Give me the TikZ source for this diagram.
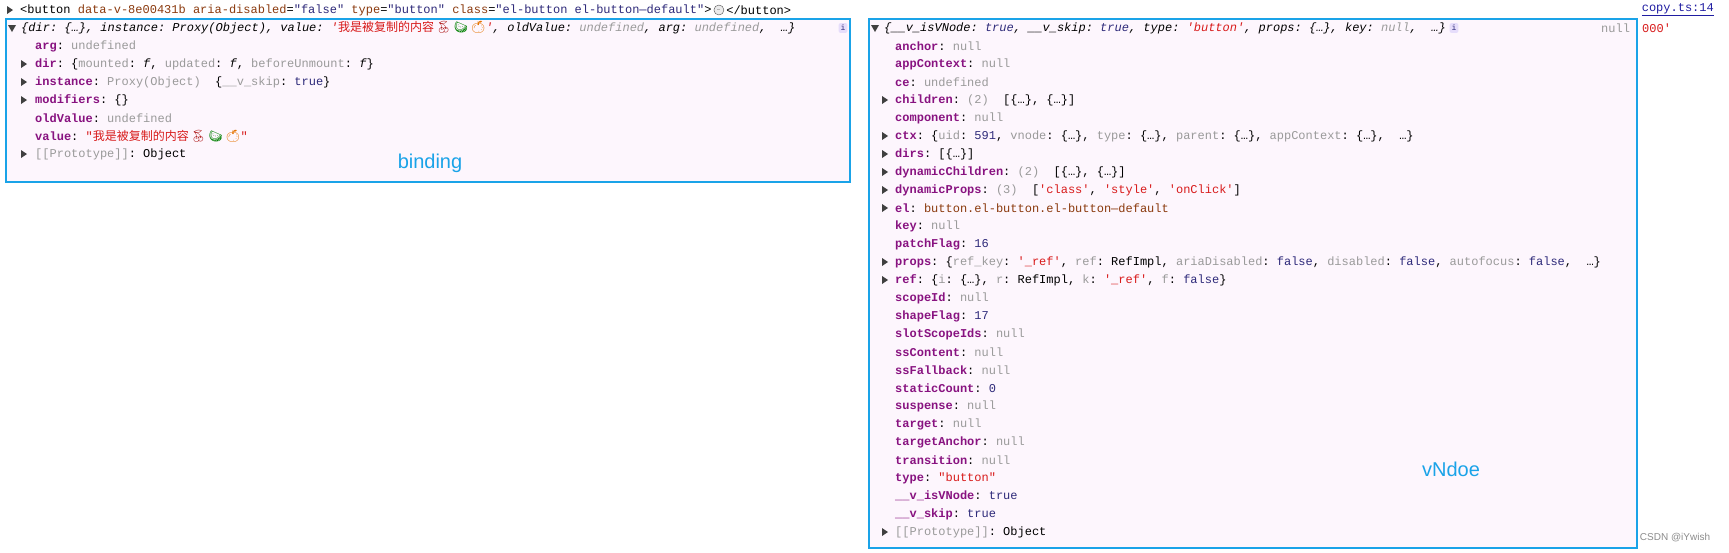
\documentclass[tikz,border=0pt]{standalone}
\usepackage{fontspec}
\setmonofont{Liberation Mono}
\setsansfont{Liberation Sans}
\newfontfamily\cjk{Noto Sans CJK SC}
\newfontfamily\emo{Noto Emoji}
\definecolor{keyc}{HTML}{881280}
\definecolor{grayc}{HTML}{9A9A9A}
\definecolor{strc}{HTML}{D81B1B}
\definecolor{numc}{HTML}{2E2A7A}
\definecolor{boxc}{HTML}{1AA3E8}
\definecolor{bgc}{HTML}{FDF6FD}
\definecolor{tagc}{HTML}{8B3A0E}
\definecolor{badge}{HTML}{E6DDFB}
\newcommand{\Kk}[1]{\textcolor{keyc}{\bfseries #1}}
\newcommand{\Gg}[1]{\textcolor{grayc}{#1}}
\newcommand{\Ss}[1]{\textcolor{strc}{#1}}
\newcommand{\Nn}[1]{\textcolor{numc}{#1}}
\newcommand{\Cn}[1]{{\cjk #1}}
\newcommand{\Fruits}{{\emo\textcolor{strc!80!black}{🍒}\,\textcolor{green!50!black}{🍉}\,\textcolor{orange!90!black}{🍊}}}
\newcommand{\Tri}[1]{\fill[black!75] ($(#1)+(-3,-4)$) -- ($(#1)+(3,0)$) -- ($(#1)+(-3,4)$) -- cycle;}
\newcommand{\DTri}[1]{\fill[black!75] ($(#1)+(-4,-3)$) -- ($(#1)+(4,-3)$) -- ($(#1)+(0,4)$) -- cycle;}
\usetikzlibrary{calc,positioning}
\begin{document}
\begin{tikzpicture}[x=1pt,y=-1pt,
  row/.style={anchor=west,inner sep=0pt,font=\ttfamily\fontsize{12}{14}\selectfont},
  irow/.style={row,font=\ttfamily\itshape\fontsize{12}{14}\selectfont},
  lbl/.style={font=\sffamily\fontsize{20}{22}\selectfont,text=boxc},
  badgebox/.style={fill=badge,rounded corners=2pt,inner sep=2pt,font=\ttfamily\footnotesize,text=numc},
  panel/.style={draw=boxc,line width=2pt,fill=bgc}]
\useasboundingbox (0,0) rectangle (1729,552);
\fill[white] (0,0) rectangle (1729,552);
% header
\coordinate (th) at (10,10);
\Tri{th}
\node[row] (hdr) at (20,10) {<button \textcolor{tagc}{data-v-8e00431b} \textcolor{tagc}{aria-disabled}=\textcolor{numc}{"false"} \textcolor{tagc}{type}=\textcolor{numc}{"button"} \textcolor{tagc}{class}=\textcolor{numc}{"el-button el-button—default"}>};
\node[circle,draw=black!70,fill=black!8,inner sep=0pt,minimum size=10pt,font=\ttfamily\tiny,right=2pt of hdr] (dots) {…};
\node[row,right=2pt of dots] (hdrend) {</button>};
\node[row,anchor=east,text=numc!70!blue] (copy) at (1714,10) {\underline{copy.ts:14}};
% panels
\draw[panel] (5.5,19) rectangle (850,182);
\draw[panel] (869,19) rectangle (1637,548);
% left panel
\coordinate (lt) at (12,28); \DTri{lt}
\node[irow] (l0) at (21,28) {\{dir: \{…\}, instance: Proxy(Object), value: \Ss{'\Cn{我是被复制的内容}\,\Fruits'}, oldValue: \Gg{undefined}, arg: \Gg{undefined},\ \ …\}};
\node[badgebox] (lb) at (843,28) {i};
\node[row] (l1) at (35,46) {\Kk{arg}: \Gg{undefined}};
\coordinate (t2) at (24,64); \Tri{t2}
\node[row] (l2) at (35,64) {\Kk{dir}: \{\Gg{mounted}: \textit{f}, \Gg{updated}: \textit{f}, \Gg{beforeUnmount}: \textit{f}\}};
\coordinate (t3) at (24,82); \Tri{t3}
\node[row] (l3) at (35,82) {\Kk{instance}: \Gg{Proxy(Object)}\ \ \{\Gg{\_\_v\_skip}: \Nn{true}\}};
\coordinate (t4) at (24,100); \Tri{t4}
\node[row] (l4) at (35,100) {\Kk{modifiers}: \{\}};
\node[row] (l5) at (35,118) {\Kk{oldValue}: \Gg{undefined}};
\node[row] (l6) at (35,136) {\Kk{value}: \Ss{"\Cn{我是被复制的内容}\,\Fruits"}};
\coordinate (t7) at (24,154); \Tri{t7}
\node[row] (l7) at (35,154) {\Gg{[[Prototype]]}: Object};
\node[lbl] (binding) at (430,163) {binding};
% right panel
\coordinate (rt) at (875,28); \DTri{rt}
\node[irow] (r0) at (884,28) {\{\_\_v\_isVNode: \Nn{true}, \_\_v\_skip: \Nn{true}, type: \Ss{'button'}, props: \{…\}, key: \Gg{null},\ \ …\}};
\node[badgebox] (rb) at (1454,28) {i};
\node[row] (rnull) at (1601,28) {\Gg{null}};
\node[row] (r000) at (1642,28) {\Ss{000'}};
\foreach \i/\arr/\txt in {
 1/0/{\Kk{anchor}: \Gg{null}},
 2/0/{\Kk{appContext}: \Gg{null}},
 3/0/{\Kk{ce}: \Gg{undefined}},
 4/1/{\Kk{children}: \Gg{(2)}\ \ [\{…\}, \{…\}]},
 5/0/{\Kk{component}: \Gg{null}},
 6/1/{\Kk{ctx}: \{\Gg{uid}: \Nn{591}, \Gg{vnode}: \{…\}, \Gg{type}: \{…\}, \Gg{parent}: \{…\}, \Gg{appContext}: \{…\},\ \ …\}},
 7/1/{\Kk{dirs}: [\{…\}]},
 8/1/{\Kk{dynamicChildren}: \Gg{(2)}\ \ [\{…\}, \{…\}]},
 9/1/{\Kk{dynamicProps}: \Gg{(3)}\ \ [\Ss{'class'}, \Ss{'style'}, \Ss{'onClick'}]},
 10/1/{\Kk{el}: \textcolor{tagc}{button.el-button.el-button—default}},
 11/0/{\Kk{key}: \Gg{null}},
 12/0/{\Kk{patchFlag}: \Nn{16}},
 13/1/{\Kk{props}: \{\Gg{ref\_key}: \Ss{'\_ref'}, \Gg{ref}: RefImpl, \Gg{ariaDisabled}: \Nn{false}, \Gg{disabled}: \Nn{false}, \Gg{autofocus}: \Nn{false},\ \ …\}},
 14/1/{\Kk{ref}: \{\Gg{i}: \{…\}, \Gg{r}: RefImpl, \Gg{k}: \Ss{'\_ref'}, \Gg{f}: \Nn{false}\}},
 15/0/{\Kk{scopeId}: \Gg{null}},
 16/0/{\Kk{shapeFlag}: \Nn{17}},
 17/0/{\Kk{slotScopeIds}: \Gg{null}},
 18/0/{\Kk{ssContent}: \Gg{null}},
 19/0/{\Kk{ssFallback}: \Gg{null}},
 20/0/{\Kk{staticCount}: \Nn{0}},
 21/0/{\Kk{suspense}: \Gg{null}},
 22/0/{\Kk{target}: \Gg{null}},
 23/0/{\Kk{targetAnchor}: \Gg{null}},
 24/0/{\Kk{transition}: \Gg{null}},
 25/0/{\Kk{type}: \Ss{"button"}},
 26/0/{\Kk{\_\_v\_isVNode}: \Nn{true}},
 27/0/{\Kk{\_\_v\_skip}: \Nn{true}},
 28/1/{\Gg{[[Prototype]]}: Object}} {
  \node[row] (r\i) at (895,{28+18*\i}) {\txt};
  \ifnum\arr=1 \coordinate (rt\i) at (885,{28+18*\i}); \Tri{rt\i}\fi
}
\node[lbl] (vnode) at (1451,469) {vNdoe};
\node[font=\sffamily\fontsize{10}{12}\selectfont,text=black!45] (csdn) at (1675,538) {CSDN @iYwish};
\end{tikzpicture}
\end{document}
